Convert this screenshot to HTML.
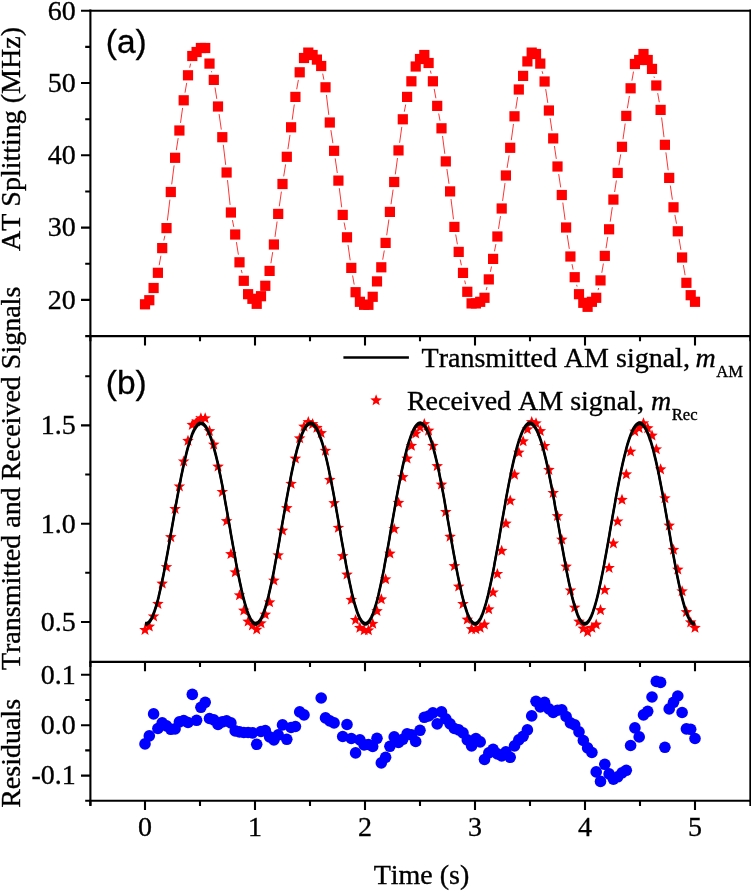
<!DOCTYPE html>
<html lang="en"><head><meta charset="utf-8"><title>AT splitting and AM signals</title>
<style>html,body{margin:0;padding:0;background:#fff}svg{display:block}</style></head>
<body>
<svg width="751" height="891" viewBox="0 0 751 891">
<rect width="751" height="891" fill="#fff"/>
<path d="M159.2 265.2L160.9 255.7M163.8 240.5L164.9 235.7M167.4 220.5L169.9 199.6M171.7 184.4L174.1 165.4M176.3 150.2L178.2 138.1M180.5 122.9L182.6 107.9M185.0 92.7L186.7 82.9M189.7 67.7L190.6 63.6M211.5 71.2L211.7 72.3M215.0 87.5L216.8 98.9M219.1 114.1L221.3 129.6M223.3 144.8L225.7 164.9M227.5 180.1L230.1 204.9M232.4 220.1L233.8 226.9M236.4 242.1L238.4 254.7M241.3 269.9L242.1 273.2M270.9 263.3L272.7 252.1M275.0 236.9L277.1 221.5M279.3 206.3L281.4 191.6M283.7 176.4L285.6 164.4M287.9 149.2L290.0 134.9M292.2 119.7L294.3 104.5M296.7 89.3L298.4 79.9M322.7 73.6L323.9 79.7M326.4 94.9L328.8 114.9M330.9 130.1L332.9 143.2M335.2 158.4L337.3 173.0M339.3 188.2L341.7 207.3M344.1 222.5L345.5 229.7M348.0 244.9L350.2 260.3M352.6 275.5L354.2 284.6M382.7 259.7L384.3 250.5M386.7 235.3L388.9 219.5M391.0 204.3L393.1 189.6M395.3 174.4L397.5 158.0M399.6 142.8L401.8 126.9M404.3 111.7L405.7 104.5M430.4 70.6L431.1 73.7M434.2 88.9L435.9 98.3M438.7 113.5L440.0 120.7M442.5 135.9L444.8 153.8M446.9 169.0L449.0 183.8M451.0 199.0L453.5 219.3M455.7 234.5L457.4 244.3M460.2 259.5L461.4 265.3M464.7 280.5L465.5 284.2M486.2 290.2L487.0 287.0M490.4 271.8L491.5 266.5M494.5 251.3L495.9 244.1M498.5 228.9L500.5 216.1M502.6 200.9L505.0 183.1M507.1 167.9L509.1 155.4M511.3 140.2L513.5 123.9M515.8 108.7L517.6 97.1M542.1 71.2L542.8 73.9M545.7 89.1L547.8 102.9M550.1 118.1L552.0 130.8M554.4 146.0L556.3 158.9M558.7 174.1L560.7 187.4M562.8 202.6L565.1 219.9M567.2 235.1L569.3 248.9M572.0 264.1L573.1 269.6M576.6 284.8L577.1 286.6M598.1 290.2L598.6 288.0M601.8 272.8L603.4 263.5M606.0 248.3L607.8 236.9M610.2 221.7L612.3 207.2M614.6 192.0L616.4 180.5M618.9 165.3L620.7 154.4M623.0 139.2L625.2 123.5M627.4 108.3L629.4 95.9M631.9 80.7L633.5 71.6M654.0 76.5L654.4 77.9M657.7 93.1L659.3 102.3M661.6 117.5L664.0 137.2M665.9 152.4L668.2 170.3M670.3 185.5L672.4 199.7M674.9 214.9L676.5 223.7M679.1 238.9L680.9 249.9M683.4 265.1L685.1 275.2" stroke="#f00" stroke-width="0.8" fill="none"/>
<g fill="#f00">
<rect x="139.9" y="299.2" width="10.2" height="10.2"/>
<rect x="144.2" y="295.1" width="10.2" height="10.2"/>
<rect x="148.5" y="282.9" width="10.2" height="10.2"/>
<rect x="152.8" y="267.7" width="10.2" height="10.2"/>
<rect x="157.1" y="243.0" width="10.2" height="10.2"/>
<rect x="161.4" y="223.0" width="10.2" height="10.2"/>
<rect x="165.7" y="186.9" width="10.2" height="10.2"/>
<rect x="170.0" y="152.7" width="10.2" height="10.2"/>
<rect x="174.3" y="125.4" width="10.2" height="10.2"/>
<rect x="178.6" y="95.2" width="10.2" height="10.2"/>
<rect x="182.9" y="70.2" width="10.2" height="10.2"/>
<rect x="187.2" y="50.9" width="10.2" height="10.2"/>
<rect x="191.5" y="46.9" width="10.2" height="10.2"/>
<rect x="195.8" y="42.9" width="10.2" height="10.2"/>
<rect x="200.1" y="42.9" width="10.2" height="10.2"/>
<rect x="204.4" y="58.5" width="10.2" height="10.2"/>
<rect x="208.7" y="74.8" width="10.2" height="10.2"/>
<rect x="212.9" y="101.4" width="10.2" height="10.2"/>
<rect x="217.2" y="132.1" width="10.2" height="10.2"/>
<rect x="221.5" y="167.4" width="10.2" height="10.2"/>
<rect x="225.8" y="207.4" width="10.2" height="10.2"/>
<rect x="230.1" y="229.4" width="10.2" height="10.2"/>
<rect x="234.4" y="257.2" width="10.2" height="10.2"/>
<rect x="238.7" y="275.7" width="10.2" height="10.2"/>
<rect x="243.0" y="289.1" width="10.2" height="10.2"/>
<rect x="247.3" y="293.7" width="10.2" height="10.2"/>
<rect x="251.6" y="298.7" width="10.2" height="10.2"/>
<rect x="255.9" y="291.1" width="10.2" height="10.2"/>
<rect x="260.2" y="280.7" width="10.2" height="10.2"/>
<rect x="264.5" y="265.8" width="10.2" height="10.2"/>
<rect x="268.8" y="239.4" width="10.2" height="10.2"/>
<rect x="273.1" y="208.8" width="10.2" height="10.2"/>
<rect x="277.4" y="178.9" width="10.2" height="10.2"/>
<rect x="281.7" y="151.7" width="10.2" height="10.2"/>
<rect x="286.0" y="122.2" width="10.2" height="10.2"/>
<rect x="290.3" y="91.8" width="10.2" height="10.2"/>
<rect x="294.6" y="67.2" width="10.2" height="10.2"/>
<rect x="298.9" y="52.9" width="10.2" height="10.2"/>
<rect x="303.2" y="47.5" width="10.2" height="10.2"/>
<rect x="307.5" y="49.9" width="10.2" height="10.2"/>
<rect x="311.8" y="54.5" width="10.2" height="10.2"/>
<rect x="316.1" y="60.9" width="10.2" height="10.2"/>
<rect x="320.4" y="82.2" width="10.2" height="10.2"/>
<rect x="324.7" y="117.4" width="10.2" height="10.2"/>
<rect x="329.0" y="145.7" width="10.2" height="10.2"/>
<rect x="333.3" y="175.5" width="10.2" height="10.2"/>
<rect x="337.6" y="209.8" width="10.2" height="10.2"/>
<rect x="341.9" y="232.2" width="10.2" height="10.2"/>
<rect x="346.2" y="262.8" width="10.2" height="10.2"/>
<rect x="350.5" y="287.1" width="10.2" height="10.2"/>
<rect x="354.8" y="296.7" width="10.2" height="10.2"/>
<rect x="359.0" y="299.7" width="10.2" height="10.2"/>
<rect x="363.3" y="299.7" width="10.2" height="10.2"/>
<rect x="367.6" y="291.7" width="10.2" height="10.2"/>
<rect x="371.9" y="276.3" width="10.2" height="10.2"/>
<rect x="376.2" y="262.2" width="10.2" height="10.2"/>
<rect x="380.5" y="237.8" width="10.2" height="10.2"/>
<rect x="384.8" y="206.8" width="10.2" height="10.2"/>
<rect x="389.1" y="176.9" width="10.2" height="10.2"/>
<rect x="393.4" y="145.3" width="10.2" height="10.2"/>
<rect x="397.7" y="114.2" width="10.2" height="10.2"/>
<rect x="402.0" y="91.8" width="10.2" height="10.2"/>
<rect x="406.3" y="76.2" width="10.2" height="10.2"/>
<rect x="410.6" y="61.4" width="10.2" height="10.2"/>
<rect x="414.9" y="53.9" width="10.2" height="10.2"/>
<rect x="419.2" y="49.9" width="10.2" height="10.2"/>
<rect x="423.5" y="57.9" width="10.2" height="10.2"/>
<rect x="427.8" y="76.2" width="10.2" height="10.2"/>
<rect x="432.1" y="100.8" width="10.2" height="10.2"/>
<rect x="436.4" y="123.2" width="10.2" height="10.2"/>
<rect x="440.7" y="156.3" width="10.2" height="10.2"/>
<rect x="445.0" y="186.3" width="10.2" height="10.2"/>
<rect x="449.3" y="221.8" width="10.2" height="10.2"/>
<rect x="453.6" y="246.8" width="10.2" height="10.2"/>
<rect x="457.9" y="267.8" width="10.2" height="10.2"/>
<rect x="462.2" y="286.7" width="10.2" height="10.2"/>
<rect x="466.5" y="298.3" width="10.2" height="10.2"/>
<rect x="470.8" y="298.3" width="10.2" height="10.2"/>
<rect x="475.1" y="296.7" width="10.2" height="10.2"/>
<rect x="479.4" y="292.7" width="10.2" height="10.2"/>
<rect x="483.7" y="274.3" width="10.2" height="10.2"/>
<rect x="488.0" y="253.8" width="10.2" height="10.2"/>
<rect x="492.3" y="231.4" width="10.2" height="10.2"/>
<rect x="496.6" y="203.4" width="10.2" height="10.2"/>
<rect x="500.8" y="170.4" width="10.2" height="10.2"/>
<rect x="505.1" y="142.7" width="10.2" height="10.2"/>
<rect x="509.4" y="111.2" width="10.2" height="10.2"/>
<rect x="513.7" y="84.4" width="10.2" height="10.2"/>
<rect x="518.0" y="70.8" width="10.2" height="10.2"/>
<rect x="522.3" y="56.3" width="10.2" height="10.2"/>
<rect x="526.6" y="47.5" width="10.2" height="10.2"/>
<rect x="530.9" y="48.9" width="10.2" height="10.2"/>
<rect x="535.2" y="58.5" width="10.2" height="10.2"/>
<rect x="539.5" y="76.4" width="10.2" height="10.2"/>
<rect x="543.8" y="105.4" width="10.2" height="10.2"/>
<rect x="548.1" y="133.3" width="10.2" height="10.2"/>
<rect x="552.4" y="161.4" width="10.2" height="10.2"/>
<rect x="556.7" y="189.9" width="10.2" height="10.2"/>
<rect x="561.0" y="222.4" width="10.2" height="10.2"/>
<rect x="565.3" y="251.4" width="10.2" height="10.2"/>
<rect x="569.6" y="272.1" width="10.2" height="10.2"/>
<rect x="573.9" y="289.1" width="10.2" height="10.2"/>
<rect x="578.2" y="297.7" width="10.2" height="10.2"/>
<rect x="582.5" y="301.7" width="10.2" height="10.2"/>
<rect x="586.8" y="296.7" width="10.2" height="10.2"/>
<rect x="591.1" y="292.7" width="10.2" height="10.2"/>
<rect x="595.4" y="275.3" width="10.2" height="10.2"/>
<rect x="599.7" y="250.8" width="10.2" height="10.2"/>
<rect x="604.0" y="224.2" width="10.2" height="10.2"/>
<rect x="608.3" y="194.5" width="10.2" height="10.2"/>
<rect x="612.6" y="167.8" width="10.2" height="10.2"/>
<rect x="616.9" y="141.7" width="10.2" height="10.2"/>
<rect x="621.2" y="110.8" width="10.2" height="10.2"/>
<rect x="625.5" y="83.2" width="10.2" height="10.2"/>
<rect x="629.8" y="58.9" width="10.2" height="10.2"/>
<rect x="634.1" y="54.9" width="10.2" height="10.2"/>
<rect x="638.4" y="48.9" width="10.2" height="10.2"/>
<rect x="642.6" y="54.9" width="10.2" height="10.2"/>
<rect x="646.9" y="63.8" width="10.2" height="10.2"/>
<rect x="651.2" y="80.4" width="10.2" height="10.2"/>
<rect x="655.5" y="104.8" width="10.2" height="10.2"/>
<rect x="659.8" y="139.7" width="10.2" height="10.2"/>
<rect x="664.1" y="172.8" width="10.2" height="10.2"/>
<rect x="668.4" y="202.2" width="10.2" height="10.2"/>
<rect x="672.7" y="226.2" width="10.2" height="10.2"/>
<rect x="677.0" y="252.4" width="10.2" height="10.2"/>
<rect x="681.3" y="277.7" width="10.2" height="10.2"/>
<rect x="685.6" y="290.1" width="10.2" height="10.2"/>
<rect x="689.9" y="296.7" width="10.2" height="10.2"/>
</g>
<path d="M145.0,623.9L146.5,627.9L150.8,628.1L147.5,630.8L148.6,634.9L145.0,632.6L141.4,634.9L142.5,630.8L139.2,628.1L143.5,627.9ZM149.3,620.5L150.8,624.5L155.1,624.7L151.8,627.4L152.9,631.5L149.3,629.2L145.7,631.5L146.8,627.4L143.5,624.7L147.8,624.5ZM153.6,610.4L155.1,614.4L159.4,614.6L156.1,617.3L157.2,621.4L153.6,619.1L150.0,621.4L151.1,617.3L147.8,614.6L152.1,614.4ZM157.9,597.9L159.4,601.8L163.7,602.1L160.4,604.8L161.5,608.9L157.9,606.6L154.3,608.9L155.4,604.8L152.1,602.1L156.4,601.8ZM162.2,577.5L163.7,581.5L168.0,581.7L164.7,584.4L165.8,588.5L162.2,586.2L158.6,588.5L159.7,584.4L156.4,581.7L160.7,581.5ZM166.5,560.9L168.0,564.9L172.3,565.2L169.0,567.8L170.1,572.0L166.5,569.6L162.9,572.0L164.0,567.8L160.7,565.2L165.0,564.9ZM170.8,531.1L172.3,535.1L176.6,535.3L173.3,538.0L174.4,542.2L170.8,539.8L167.2,542.2L168.3,538.0L165.0,535.3L169.3,535.1ZM175.1,502.9L176.6,506.9L180.9,507.1L177.6,509.8L178.7,513.9L175.1,511.6L171.5,513.9L172.6,509.8L169.3,507.1L173.6,506.9ZM179.4,480.4L180.9,484.4L185.2,484.6L181.8,487.3L183.0,491.4L179.4,489.1L175.8,491.4L176.9,487.3L173.6,484.6L177.8,484.4ZM183.7,455.4L185.2,459.4L189.5,459.6L186.1,462.3L187.3,466.5L183.7,464.1L180.1,466.5L181.2,462.3L177.9,459.6L182.1,459.4ZM188.0,434.8L189.5,438.8L193.8,439.0L190.4,441.7L191.6,445.8L188.0,443.5L184.4,445.8L185.5,441.7L182.2,439.0L186.4,438.8ZM192.3,418.8L193.8,422.8L198.1,423.1L194.7,425.7L195.9,429.9L192.3,427.5L188.7,429.9L189.8,425.7L186.5,423.1L190.7,422.8ZM196.6,415.5L198.1,419.5L202.4,419.8L199.0,422.4L200.1,426.6L196.6,424.2L193.0,426.6L194.1,422.4L190.8,419.8L195.0,419.5ZM200.9,412.2L202.4,416.2L206.7,416.4L203.3,419.1L204.4,423.3L200.9,420.9L197.3,423.3L198.4,419.1L195.1,416.4L199.3,416.2ZM205.2,412.2L206.7,416.2L211.0,416.4L207.6,419.1L208.7,423.3L205.2,420.9L201.6,423.3L202.7,419.1L199.4,416.4L203.6,416.2ZM209.5,425.1L211.0,429.1L215.3,429.3L211.9,432.0L213.0,436.1L209.5,433.8L205.9,436.1L207.0,432.0L203.7,429.3L207.9,429.1ZM213.8,438.6L215.3,442.6L219.6,442.8L216.2,445.5L217.3,449.6L213.8,447.3L210.2,449.6L211.3,445.5L208.0,442.8L212.2,442.6ZM218.0,460.5L219.6,464.5L223.9,464.8L220.5,467.4L221.6,471.6L218.0,469.2L214.5,471.6L215.6,467.4L212.2,464.8L216.5,464.5ZM222.3,485.9L223.9,489.9L228.1,490.1L224.8,492.8L225.9,496.9L222.3,494.6L218.8,496.9L219.9,492.8L216.5,490.1L220.8,489.9ZM226.6,515.0L228.2,519.0L232.4,519.2L229.1,521.9L230.2,526.1L226.6,523.7L223.1,526.1L224.2,521.9L220.8,519.2L225.1,519.0ZM230.9,548.1L232.5,552.1L236.7,552.3L233.4,555.0L234.5,559.1L230.9,556.8L227.4,559.1L228.5,555.0L225.1,552.3L229.4,552.1ZM235.2,566.2L236.8,570.2L241.0,570.4L237.7,573.1L238.8,577.3L235.2,574.9L231.7,577.3L232.8,573.1L229.4,570.4L233.7,570.2ZM239.5,589.2L241.1,593.2L245.3,593.4L242.0,596.1L243.1,600.2L239.5,597.9L235.9,600.2L237.1,596.1L233.7,593.4L238.0,593.2ZM243.8,604.5L245.4,608.5L249.6,608.7L246.3,611.4L247.4,615.5L243.8,613.2L240.2,615.5L241.4,611.4L238.0,608.7L242.3,608.5ZM248.1,615.5L249.7,619.5L253.9,619.7L250.6,622.4L251.7,626.6L248.1,624.2L244.5,626.6L245.7,622.4L242.3,619.7L246.6,619.5ZM252.4,619.3L254.0,623.3L258.2,623.5L254.9,626.2L256.0,630.4L252.4,628.0L248.8,630.4L250.0,626.2L246.6,623.5L250.9,623.3ZM256.7,623.4L258.3,627.4L262.5,627.7L259.2,630.4L260.3,634.5L256.7,632.1L253.1,634.5L254.2,630.4L250.9,627.7L255.2,627.4ZM261.0,617.2L262.5,621.2L266.8,621.4L263.5,624.1L264.6,628.2L261.0,625.9L257.4,628.2L258.5,624.1L255.2,621.4L259.5,621.2ZM265.3,608.6L266.8,612.6L271.1,612.8L267.8,615.5L268.9,619.6L265.3,617.3L261.7,619.6L262.8,615.5L259.5,612.8L263.8,612.6ZM269.6,596.3L271.1,600.3L275.4,600.5L272.1,603.2L273.2,607.3L269.6,605.0L266.0,607.3L267.1,603.2L263.8,600.5L268.1,600.3ZM273.9,574.5L275.4,578.5L279.7,578.7L276.4,581.4L277.5,585.5L273.9,583.2L270.3,585.5L271.4,581.4L268.1,578.7L272.4,578.5ZM278.2,549.2L279.7,553.2L284.0,553.4L280.7,556.1L281.8,560.3L278.2,557.9L274.6,560.3L275.7,556.1L272.4,553.4L276.7,553.2ZM282.5,524.5L284.0,528.5L288.3,528.7L285.0,531.4L286.1,535.6L282.5,533.2L278.9,535.6L280.0,531.4L276.7,528.7L281.0,528.5ZM286.8,502.1L288.3,506.1L292.6,506.3L289.3,509.0L290.4,513.1L286.8,510.8L283.2,513.1L284.3,509.0L281.0,506.3L285.3,506.1ZM291.1,477.7L292.6,481.7L296.9,481.9L293.6,484.6L294.7,488.7L291.1,486.4L287.5,488.7L288.6,484.6L285.3,481.9L289.6,481.7ZM295.4,452.6L296.9,456.6L301.2,456.8L297.9,459.5L299.0,463.6L295.4,461.3L291.8,463.6L292.9,459.5L289.6,456.8L293.9,456.6ZM299.7,432.3L301.2,436.3L305.5,436.5L302.2,439.2L303.3,443.3L299.7,441.0L296.1,443.3L297.2,439.2L293.9,436.5L298.2,436.3ZM304.0,420.5L305.5,424.5L309.8,424.7L306.5,427.4L307.6,431.5L304.0,429.2L300.4,431.5L301.5,427.4L298.2,424.7L302.5,424.5ZM308.3,416.0L309.8,420.0L314.1,420.2L310.8,422.9L311.9,427.1L308.3,424.7L304.7,427.1L305.8,422.9L302.5,420.2L306.8,420.0ZM312.6,418.0L314.1,422.0L318.4,422.2L315.1,424.9L316.2,429.0L312.6,426.7L309.0,429.0L310.1,424.9L306.8,422.2L311.1,422.0ZM316.9,421.8L318.4,425.8L322.7,426.0L319.4,428.7L320.5,432.8L316.9,430.5L313.3,432.8L314.4,428.7L311.1,426.0L315.4,425.8ZM321.2,427.1L322.7,431.1L327.0,431.3L323.6,434.0L324.8,438.1L321.2,435.8L317.6,438.1L318.7,434.0L315.4,431.3L319.6,431.1ZM325.5,444.7L327.0,448.7L331.3,448.9L327.9,451.6L329.1,455.7L325.5,453.4L321.9,455.7L323.0,451.6L319.7,448.9L323.9,448.7ZM329.8,473.7L331.3,477.7L335.6,478.0L332.2,480.7L333.4,484.8L329.8,482.4L326.2,484.8L327.3,480.7L324.0,478.0L328.2,477.7ZM334.1,497.1L335.6,501.1L339.9,501.3L336.5,504.0L337.7,508.2L334.1,505.8L330.5,508.2L331.6,504.0L328.3,501.3L332.5,501.1ZM338.4,521.7L339.9,525.7L344.2,525.9L340.8,528.6L342.0,532.8L338.4,530.4L334.8,532.8L335.9,528.6L332.6,525.9L336.8,525.7ZM342.7,550.0L344.2,554.0L348.5,554.3L345.1,556.9L346.2,561.1L342.7,558.7L339.1,561.1L340.2,556.9L336.9,554.3L341.1,554.0ZM347.0,568.5L348.5,572.5L352.8,572.8L349.4,575.4L350.5,579.6L347.0,577.2L343.4,579.6L344.5,575.4L341.2,572.8L345.4,572.5ZM351.3,593.8L352.8,597.8L357.1,598.0L353.7,600.7L354.8,604.8L351.3,602.5L347.7,604.8L348.8,600.7L345.5,598.0L349.7,597.8ZM355.6,613.9L357.1,617.9L361.4,618.1L358.0,620.8L359.1,624.9L355.6,622.6L352.0,624.9L353.1,620.8L349.8,618.1L354.0,617.9ZM359.9,621.8L361.4,625.8L365.7,626.0L362.3,628.7L363.4,632.8L359.9,630.5L356.3,632.8L357.4,628.7L354.0,626.0L358.3,625.8ZM364.1,624.3L365.7,628.3L369.9,628.5L366.6,631.2L367.7,635.3L364.1,633.0L360.6,635.3L361.7,631.2L358.3,628.5L362.6,628.3ZM368.4,624.3L370.0,628.3L374.2,628.5L370.9,631.2L372.0,635.3L368.4,633.0L364.9,635.3L366.0,631.2L362.6,628.5L366.9,628.3ZM372.7,617.7L374.3,621.7L378.5,621.9L375.2,624.6L376.3,628.7L372.7,626.4L369.2,628.7L370.3,624.6L366.9,621.9L371.2,621.7ZM377.0,605.0L378.6,608.9L382.8,609.2L379.5,611.9L380.6,616.0L377.0,613.7L373.5,616.0L374.6,611.9L371.2,609.2L375.5,608.9ZM381.3,593.3L382.9,597.3L387.1,597.5L383.8,600.2L384.9,604.3L381.3,602.0L377.7,604.3L378.9,600.2L375.5,597.5L379.8,597.3ZM385.6,573.2L387.2,577.2L391.4,577.4L388.1,580.1L389.2,584.2L385.6,581.9L382.0,584.2L383.2,580.1L379.8,577.4L384.1,577.2ZM389.9,547.6L391.5,551.6L395.7,551.8L392.4,554.5L393.5,558.6L389.9,556.3L386.3,558.6L387.5,554.5L384.1,551.8L388.4,551.6ZM394.2,522.9L395.8,526.9L400.0,527.1L396.7,529.8L397.8,533.9L394.2,531.6L390.6,533.9L391.8,529.8L388.4,527.1L392.7,526.9ZM398.5,496.8L400.1,500.8L404.3,501.0L401.0,503.7L402.1,507.8L398.5,505.5L394.9,507.8L396.1,503.7L392.7,501.0L397.0,500.8ZM402.8,471.1L404.3,475.1L408.6,475.3L405.3,478.0L406.4,482.1L402.8,479.8L399.2,482.1L400.3,478.0L397.0,475.3L401.3,475.1ZM407.1,452.6L408.6,456.6L412.9,456.8L409.6,459.5L410.7,463.6L407.1,461.3L403.5,463.6L404.6,459.5L401.3,456.8L405.6,456.6ZM411.4,439.7L412.9,443.7L417.2,443.9L413.9,446.6L415.0,450.8L411.4,448.4L407.8,450.8L408.9,446.6L405.6,443.9L409.9,443.7ZM415.7,427.5L417.2,431.5L421.5,431.7L418.2,434.4L419.3,438.5L415.7,436.2L412.1,438.5L413.2,434.4L409.9,431.7L414.2,431.5ZM420.0,421.3L421.5,425.3L425.8,425.5L422.5,428.2L423.6,432.4L420.0,430.0L416.4,432.4L417.5,428.2L414.2,425.5L418.5,425.3ZM424.3,418.0L425.8,422.0L430.1,422.2L426.8,424.9L427.9,429.0L424.3,426.7L420.7,429.0L421.8,424.9L418.5,422.2L422.8,422.0ZM428.6,424.6L430.1,428.6L434.4,428.8L431.1,431.5L432.2,435.7L428.6,433.3L425.0,435.7L426.1,431.5L422.8,428.8L427.1,428.6ZM432.9,439.7L434.4,443.7L438.7,443.9L435.4,446.6L436.5,450.8L432.9,448.4L429.3,450.8L430.4,446.6L427.1,443.9L431.4,443.7ZM437.2,460.0L438.7,464.0L443.0,464.3L439.7,466.9L440.8,471.1L437.2,468.7L433.6,471.1L434.7,466.9L431.4,464.3L435.7,464.0ZM441.5,478.5L443.0,482.5L447.3,482.8L444.0,485.4L445.1,489.6L441.5,487.2L437.9,489.6L439.0,485.4L435.7,482.8L440.0,482.5ZM445.8,505.9L447.3,509.9L451.6,510.1L448.3,512.8L449.4,516.9L445.8,514.6L442.2,516.9L443.3,512.8L440.0,510.1L444.3,509.9ZM450.1,530.6L451.6,534.6L455.9,534.9L452.6,537.5L453.7,541.7L450.1,539.3L446.5,541.7L447.6,537.5L444.3,534.9L448.6,534.6ZM454.4,560.0L455.9,563.9L460.2,564.2L456.9,566.9L458.0,571.0L454.4,568.7L450.8,571.0L451.9,566.9L448.6,564.2L452.9,563.9ZM458.7,580.6L460.2,584.6L464.5,584.8L461.2,587.5L462.3,591.6L458.7,589.3L455.1,591.6L456.2,587.5L452.9,584.8L457.2,584.6ZM463.0,597.9L464.5,601.9L468.8,602.1L465.5,604.8L466.6,609.0L463.0,606.6L459.4,609.0L460.5,604.8L457.2,602.1L461.4,601.9ZM467.3,613.5L468.8,617.5L473.1,617.8L469.7,620.4L470.9,624.6L467.3,622.2L463.7,624.6L464.8,620.4L461.5,617.8L465.7,617.5ZM471.6,623.1L473.1,627.1L477.4,627.3L474.0,630.0L475.2,634.2L471.6,631.8L468.0,634.2L469.1,630.0L465.8,627.3L470.0,627.1ZM475.9,623.1L477.4,627.1L481.7,627.3L478.3,630.0L479.5,634.2L475.9,631.8L472.3,634.2L473.4,630.0L470.1,627.3L474.3,627.1ZM480.2,621.8L481.7,625.8L486.0,626.0L482.6,628.7L483.8,632.8L480.2,630.5L476.6,632.8L477.7,628.7L474.4,626.0L478.6,625.8ZM484.5,618.5L486.0,622.5L490.3,622.7L486.9,625.4L488.0,629.5L484.5,627.2L480.9,629.5L482.0,625.4L478.7,622.7L482.9,622.5ZM488.8,603.3L490.3,607.3L494.6,607.5L491.2,610.2L492.3,614.3L488.8,612.0L485.2,614.3L486.3,610.2L483.0,607.5L487.2,607.3ZM493.1,586.4L494.6,590.4L498.9,590.6L495.5,593.3L496.6,597.4L493.1,595.1L489.5,597.4L490.6,593.3L487.3,590.6L491.5,590.4ZM497.4,567.9L498.9,571.9L503.2,572.1L499.8,574.8L500.9,578.9L497.4,576.6L493.8,578.9L494.9,574.8L491.6,572.1L495.8,571.9ZM501.7,544.8L503.2,548.8L507.5,549.0L504.1,551.7L505.2,555.8L501.7,553.5L498.1,555.8L499.2,551.7L495.8,549.0L500.1,548.8ZM505.9,517.5L507.5,521.5L511.7,521.7L508.4,524.4L509.5,528.5L505.9,526.2L502.4,528.5L503.5,524.4L500.1,521.7L504.4,521.5ZM510.2,494.6L511.8,498.6L516.0,498.9L512.7,501.5L513.8,505.7L510.2,503.3L506.7,505.7L507.8,501.5L504.4,498.9L508.7,498.6ZM514.5,468.6L516.1,472.6L520.3,472.8L517.0,475.5L518.1,479.7L514.5,477.3L511.0,479.7L512.1,475.5L508.7,472.8L513.0,472.6ZM518.8,446.5L520.4,450.5L524.6,450.7L521.3,453.4L522.4,457.5L518.8,455.2L515.3,457.5L516.4,453.4L513.0,450.7L517.3,450.5ZM523.1,435.3L524.7,439.3L528.9,439.5L525.6,442.2L526.7,446.3L523.1,444.0L519.6,446.3L520.7,442.2L517.3,439.5L521.6,439.3ZM527.4,423.3L529.0,427.3L533.2,427.5L529.9,430.2L531.0,434.3L527.4,432.0L523.8,434.3L525.0,430.2L521.6,427.5L525.9,427.3ZM531.7,416.0L533.3,420.0L537.5,420.2L534.2,422.9L535.3,427.1L531.7,424.7L528.1,427.1L529.3,422.9L525.9,420.2L530.2,420.0ZM536.0,417.2L537.6,421.2L541.8,421.4L538.5,424.1L539.6,428.2L536.0,425.9L532.4,428.2L533.6,424.1L530.2,421.4L534.5,421.2ZM540.3,425.1L541.9,429.1L546.1,429.3L542.8,432.0L543.9,436.1L540.3,433.8L536.7,436.1L537.9,432.0L534.5,429.3L538.8,429.1ZM544.6,439.9L546.1,443.9L550.4,444.1L547.1,446.8L548.2,450.9L544.6,448.6L541.0,450.9L542.1,446.8L538.8,444.1L543.1,443.9ZM548.9,463.8L550.4,467.8L554.7,468.1L551.4,470.7L552.5,474.9L548.9,472.5L545.3,474.9L546.4,470.7L543.1,468.1L547.4,467.8ZM553.2,486.9L554.7,490.9L559.0,491.1L555.7,493.8L556.8,497.9L553.2,495.6L549.6,497.9L550.7,493.8L547.4,491.1L551.7,490.9ZM557.5,510.1L559.0,514.1L563.3,514.3L560.0,517.0L561.1,521.1L557.5,518.8L553.9,521.1L555.0,517.0L551.7,514.3L556.0,514.1ZM561.8,533.6L563.3,537.6L567.6,537.8L564.3,540.5L565.4,544.6L561.8,542.3L558.2,544.6L559.3,540.5L556.0,537.8L560.3,537.6ZM566.1,560.4L567.6,564.4L571.9,564.7L568.6,567.4L569.7,571.5L566.1,569.1L562.5,571.5L563.6,567.4L560.3,564.7L564.6,564.4ZM570.4,584.4L571.9,588.4L576.2,588.6L572.9,591.3L574.0,595.4L570.4,593.1L566.8,595.4L567.9,591.3L564.6,588.6L568.9,588.4ZM574.7,601.5L576.2,605.5L580.5,605.7L577.2,608.4L578.3,612.5L574.7,610.2L571.1,612.5L572.2,608.4L568.9,605.7L573.2,605.5ZM579.0,615.5L580.5,619.5L584.8,619.7L581.5,622.4L582.6,626.6L579.0,624.2L575.4,626.6L576.5,622.4L573.2,619.7L577.5,619.5ZM583.3,622.6L584.8,626.6L589.1,626.8L585.8,629.5L586.9,633.7L583.3,631.3L579.7,633.7L580.8,629.5L577.5,626.8L581.8,626.6ZM587.6,625.9L589.1,629.9L593.4,630.1L590.1,632.8L591.2,637.0L587.6,634.6L584.0,637.0L585.1,632.8L581.8,630.1L586.1,629.9ZM591.9,621.8L593.4,625.8L597.7,626.0L594.4,628.7L595.5,632.8L591.9,630.5L588.3,632.8L589.4,628.7L586.1,626.0L590.4,625.8ZM596.2,618.5L597.7,622.5L602.0,622.7L598.7,625.4L599.8,629.5L596.2,627.2L592.6,629.5L593.7,625.4L590.4,622.7L594.7,622.5ZM600.5,604.1L602.0,608.1L606.3,608.3L603.0,611.0L604.1,615.2L600.5,612.8L596.9,615.2L598.0,611.0L594.7,608.3L599.0,608.1ZM604.8,583.9L606.3,587.9L610.6,588.1L607.3,590.8L608.4,594.9L604.8,592.6L601.2,594.9L602.3,590.8L599.0,588.1L603.3,587.9ZM609.1,561.9L610.6,565.9L614.9,566.1L611.5,568.8L612.7,573.0L609.1,570.6L605.5,573.0L606.6,568.8L603.3,566.1L607.5,565.9ZM613.4,537.4L614.9,541.4L619.2,541.6L615.8,544.3L617.0,548.4L613.4,546.1L609.8,548.4L610.9,544.3L607.6,541.6L611.8,541.4ZM617.7,515.4L619.2,519.4L623.5,519.6L620.1,522.3L621.3,526.4L617.7,524.1L614.1,526.4L615.2,522.3L611.9,519.6L616.1,519.4ZM622.0,493.8L623.5,497.8L627.8,498.0L624.4,500.7L625.6,504.8L622.0,502.5L618.4,504.8L619.5,500.7L616.2,498.0L620.4,497.8ZM626.3,468.3L627.8,472.3L632.1,472.5L628.7,475.2L629.8,479.3L626.3,477.0L622.7,479.3L623.8,475.2L620.5,472.5L624.7,472.3ZM630.6,445.5L632.1,449.5L636.4,449.7L633.0,452.4L634.1,456.5L630.6,454.2L627.0,456.5L628.1,452.4L624.8,449.7L629.0,449.5ZM634.9,425.4L636.4,429.4L640.7,429.7L637.3,432.3L638.4,436.5L634.9,434.1L631.3,436.5L632.4,432.3L629.1,429.7L633.3,429.4ZM639.2,422.1L640.7,426.1L645.0,426.4L641.6,429.0L642.7,433.2L639.2,430.8L635.6,433.2L636.7,429.0L633.4,426.4L637.6,426.1ZM643.5,417.2L645.0,421.2L649.3,421.4L645.9,424.1L647.0,428.2L643.5,425.9L639.9,428.2L641.0,424.1L637.7,421.4L641.9,421.2ZM647.7,422.1L649.3,426.1L653.6,426.4L650.2,429.0L651.3,433.2L647.7,430.8L644.2,433.2L645.3,429.0L641.9,426.4L646.2,426.1ZM652.0,429.5L653.6,433.5L657.8,433.7L654.5,436.4L655.6,440.5L652.0,438.2L648.5,440.5L649.6,436.4L646.2,433.7L650.5,433.5ZM656.3,443.2L657.9,447.2L662.1,447.4L658.8,450.1L659.9,454.2L656.3,451.9L652.8,454.2L653.9,450.1L650.5,447.4L654.8,447.2ZM660.6,463.3L662.2,467.3L666.4,467.6L663.1,470.2L664.2,474.4L660.6,472.0L657.1,474.4L658.2,470.2L654.8,467.6L659.1,467.3ZM664.9,492.2L666.5,496.2L670.7,496.4L667.4,499.1L668.5,503.2L664.9,500.9L661.4,503.2L662.5,499.1L659.1,496.4L663.4,496.2ZM669.2,519.5L670.8,523.5L675.0,523.7L671.7,526.4L672.8,530.5L669.2,528.2L665.6,530.5L666.8,526.4L663.4,523.7L667.7,523.5ZM673.5,543.8L675.1,547.8L679.3,548.0L676.0,550.7L677.1,554.8L673.5,552.5L669.9,554.8L671.1,550.7L667.7,548.0L672.0,547.8ZM677.8,563.6L679.4,567.6L683.6,567.8L680.3,570.5L681.4,574.6L677.8,572.3L674.2,574.6L675.4,570.5L672.0,567.8L676.3,567.6ZM682.1,585.2L683.7,589.2L687.9,589.4L684.6,592.1L685.7,596.3L682.1,593.9L678.5,596.3L679.7,592.1L676.3,589.4L680.6,589.2ZM686.4,606.1L688.0,610.1L692.2,610.3L688.9,613.0L690.0,617.1L686.4,614.8L682.8,617.1L683.9,613.0L680.6,610.3L684.9,610.1ZM690.7,616.3L692.2,620.3L696.5,620.6L693.2,623.3L694.3,627.4L690.7,625.0L687.1,627.4L688.2,623.3L684.9,620.6L689.2,620.3ZM695.0,621.8L696.5,625.8L700.8,626.0L697.5,628.7L698.6,632.8L695.0,630.5L691.4,632.8L692.5,628.7L689.2,626.0L693.5,625.8Z" fill="#f00"/>
<g stroke="#000" stroke-width="2.3" fill="none" stroke-linejoin="round"><path d="M145.0 623.6L145.8 623.8L146.6 623.7L147.4 623.5L148.1 623.0L148.9 622.3L149.7 621.4L150.5 620.3L151.3 618.9L152.1 617.4L152.9 615.6L153.6 613.6L154.4 611.5L155.2 609.1L156.0 606.6L156.8 603.9L157.6 601.0L158.4 597.9L159.1 594.7L159.9 591.3L160.7 587.8L161.5 584.2L162.3 580.4L163.1 576.6L163.9 572.6L164.6 568.5L165.4 564.3L166.2 560.1L167.0 555.8L167.8 551.4L168.6 547.0L169.4 542.5L170.1 538.0L170.9 533.5L171.7 528.9L172.5 524.4L173.3 519.9L174.1 515.4L174.9 510.9L175.6 506.5L176.4 502.1L177.2 497.7L178.0 493.4L178.8 489.2L179.6 485.1L180.4 481.0L181.1 477.0L181.9 473.2L182.7 469.4L183.5 465.7L184.3 462.2L185.1 458.8L185.9 455.5L186.6 452.4L187.4 449.4L188.2 446.5L189.0 443.8L189.8 441.3L190.6 438.9L191.4 436.6L192.1 434.5L192.9 432.6L193.7 430.9L194.5 429.3L195.3 428.0L196.1 426.8L196.9 425.7L197.6 424.9L198.4 424.2L199.2 423.7L200.0 423.4L200.8 423.3L201.6 423.4L202.4 423.6L203.1 424.1L203.9 424.7L204.7 425.5L205.5 426.5L206.3 427.6L207.1 429.0L207.9 430.5L208.6 432.2L209.4 434.0L210.2 436.1L211.0 438.3L211.8 440.6L212.6 443.1L213.4 445.8L214.1 448.6L214.9 451.6L215.7 454.7L216.5 457.9L217.3 461.3L218.1 464.8L218.9 468.4L219.6 472.2L220.4 476.0L221.2 480.0L222.0 484.0L222.8 488.1L223.6 492.3L224.4 496.6L225.1 500.9L225.9 505.3L226.7 509.7L227.5 514.2L228.3 518.7L229.1 523.2L229.9 527.8L230.6 532.3L231.4 536.8L232.2 541.3L233.0 545.8L233.8 550.2L234.6 554.6L235.4 559.0L236.1 563.2L236.9 567.4L237.7 571.5L238.5 575.5L239.3 579.4L240.1 583.2L240.9 586.9L241.6 590.4L242.4 593.8L243.2 597.1L244.0 600.2L244.8 603.1L245.6 605.9L246.4 608.5L247.1 610.9L247.9 613.1L248.7 615.1L249.5 616.9L250.3 618.5L251.1 619.9L251.9 621.1L252.6 622.1L253.4 622.9L254.2 623.4L255.0 623.7L255.8 623.8L256.6 623.7L257.4 623.3L258.1 622.7L258.9 622.0L259.7 620.9L260.5 619.7L261.3 618.3L262.1 616.6L262.9 614.8L263.6 612.8L264.4 610.5L265.2 608.1L266.0 605.5L266.8 602.7L267.6 599.7L268.4 596.6L269.1 593.3L269.9 589.9L270.7 586.4L271.5 582.7L272.3 578.9L273.1 574.9L273.9 570.9L274.6 566.8L275.4 562.6L276.2 558.3L277.0 554.0L277.8 549.6L278.6 545.1L279.4 540.6L280.1 536.1L280.9 531.6L281.7 527.1L282.5 522.5L283.3 518.0L284.1 513.5L284.9 509.1L285.6 504.6L286.4 500.3L287.2 495.9L288.0 491.7L288.8 487.5L289.6 483.4L290.4 479.3L291.1 475.4L291.9 471.6L292.7 467.9L293.5 464.3L294.3 460.8L295.1 457.4L295.9 454.2L296.6 451.1L297.4 448.2L298.2 445.4L299.0 442.7L299.8 440.2L300.6 437.9L301.4 435.7L302.1 433.7L302.9 431.9L303.7 430.2L304.5 428.8L305.3 427.4L306.1 426.3L306.9 425.4L307.6 424.6L308.4 424.0L309.2 423.6L310.0 423.4L310.8 423.3L311.6 423.5L312.4 423.8L313.1 424.3L313.9 425.0L314.7 425.9L315.5 426.9L316.3 428.2L317.1 429.6L317.9 431.2L318.6 432.9L319.4 434.9L320.2 437.0L321.0 439.2L321.8 441.6L322.6 444.2L323.4 446.9L324.1 449.8L324.9 452.9L325.7 456.0L326.5 459.3L327.3 462.8L328.1 466.3L328.9 470.0L329.6 473.8L330.4 477.6L331.2 481.6L332.0 485.7L332.8 489.8L333.6 494.1L334.4 498.4L335.1 502.7L335.9 507.1L336.7 511.6L337.5 516.1L338.3 520.6L339.1 525.1L339.9 529.6L340.6 534.2L341.4 538.7L342.2 543.2L343.0 547.6L343.8 552.1L344.6 556.4L345.4 560.7L346.1 565.0L346.9 569.1L347.7 573.2L348.5 577.2L349.3 581.0L350.1 584.8L350.9 588.4L351.6 591.9L352.4 595.2L353.2 598.4L354.0 601.4L354.8 604.3L355.6 607.0L356.4 609.5L357.1 611.8L357.9 613.9L358.7 615.9L359.5 617.6L360.3 619.1L361.1 620.4L361.9 621.5L362.6 622.4L363.4 623.1L364.2 623.5L365.0 623.8L365.8 623.8L366.6 623.6L367.4 623.1L368.1 622.4L368.9 621.6L369.7 620.5L370.5 619.2L371.3 617.6L372.1 615.9L372.9 614.0L373.6 611.9L374.4 609.5L375.2 607.0L376.0 604.3L376.8 601.5L377.6 598.5L378.4 595.3L379.1 591.9L379.9 588.5L380.7 584.8L381.5 581.1L382.3 577.2L383.1 573.3L383.9 569.2L384.6 565.1L385.4 560.8L386.2 556.5L387.0 552.1L387.8 547.7L388.6 543.3L389.4 538.8L390.1 534.3L390.9 529.7L391.7 525.2L392.5 520.7L393.3 516.2L394.1 511.7L394.9 507.2L395.6 502.8L396.4 498.5L397.2 494.2L398.0 489.9L398.8 485.8L399.6 481.7L400.4 477.7L401.1 473.8L401.9 470.0L402.7 466.4L403.5 462.8L404.3 459.4L405.1 456.1L405.9 452.9L406.6 449.9L407.4 447.0L408.2 444.3L409.0 441.7L409.8 439.3L410.6 437.0L411.4 434.9L412.1 433.0L412.9 431.2L413.7 429.6L414.5 428.2L415.3 427.0L416.1 425.9L416.9 425.0L417.6 424.3L418.4 423.8L419.2 423.5L420.0 423.3L420.8 423.4L421.6 423.6L422.4 424.0L423.1 424.6L423.9 425.3L424.7 426.3L425.5 427.4L426.3 428.7L427.1 430.2L427.9 431.9L428.6 433.7L429.4 435.7L430.2 437.9L431.0 440.2L431.8 442.7L432.6 445.3L433.4 448.1L434.1 451.1L434.9 454.1L435.7 457.4L436.5 460.7L437.3 464.2L438.1 467.8L438.9 471.5L439.6 475.3L440.4 479.3L441.2 483.3L442.0 487.4L442.8 491.6L443.6 495.8L444.4 500.2L445.1 504.6L445.9 509.0L446.7 513.4L447.5 517.9L448.3 522.5L449.1 527.0L449.9 531.5L450.6 536.0L451.4 540.6L452.2 545.0L453.0 549.5L453.8 553.9L454.6 558.2L455.4 562.5L456.1 566.7L456.9 570.8L457.7 574.9L458.5 578.8L459.3 582.6L460.1 586.3L460.9 589.8L461.6 593.3L462.4 596.5L463.2 599.7L464.0 602.6L464.8 605.4L465.6 608.0L466.4 610.5L467.1 612.7L467.9 614.8L468.7 616.6L469.5 618.3L470.3 619.7L471.1 620.9L471.9 621.9L472.6 622.7L473.4 623.3L474.2 623.7L475.0 623.8L475.8 623.7L476.6 623.4L477.4 622.9L478.1 622.1L478.9 621.1L479.7 620.0L480.5 618.6L481.3 616.9L482.1 615.1L482.9 613.1L483.6 610.9L484.4 608.5L485.2 605.9L486.0 603.2L486.8 600.2L487.6 597.2L488.4 593.9L489.1 590.5L489.9 587.0L490.7 583.3L491.5 579.5L492.3 575.6L493.1 571.6L493.9 567.5L494.6 563.3L495.4 559.0L496.2 554.7L497.0 550.3L497.8 545.9L498.6 541.4L499.4 536.9L500.1 532.4L500.9 527.9L501.7 523.3L502.5 518.8L503.3 514.3L504.1 509.8L504.9 505.4L505.6 501.0L506.4 496.7L507.2 492.4L508.0 488.2L508.8 484.1L509.6 480.0L510.4 476.1L511.1 472.2L511.9 468.5L512.7 464.9L513.5 461.4L514.3 458.0L515.1 454.8L515.9 451.6L516.6 448.7L517.4 445.9L518.2 443.2L519.0 440.7L519.8 438.3L520.6 436.1L521.4 434.1L522.1 432.2L522.9 430.5L523.7 429.0L524.5 427.7L525.3 426.5L526.1 425.5L526.9 424.7L527.6 424.1L528.4 423.6L529.2 423.4L530.0 423.3L530.8 423.4L531.6 423.7L532.4 424.2L533.1 424.9L533.9 425.7L534.7 426.7L535.5 427.9L536.3 429.3L537.1 430.9L537.9 432.6L538.6 434.5L539.4 436.6L540.2 438.8L541.0 441.2L541.8 443.8L542.6 446.5L543.4 449.3L544.1 452.3L544.9 455.5L545.7 458.7L546.5 462.1L547.3 465.7L548.1 469.3L548.9 473.1L549.6 477.0L550.4 480.9L551.2 485.0L552.0 489.1L552.8 493.3L553.6 497.6L554.4 502.0L555.1 506.4L555.9 510.8L556.7 515.3L557.5 519.8L558.3 524.3L559.1 528.9L559.9 533.4L560.6 537.9L561.4 542.4L562.2 546.9L563.0 551.3L563.8 555.7L564.6 560.0L565.4 564.3L566.1 568.4L566.9 572.5L567.7 576.5L568.5 580.4L569.3 584.1L570.1 587.8L570.9 591.3L571.6 594.6L572.4 597.9L573.2 600.9L574.0 603.8L574.8 606.5L575.6 609.1L576.4 611.4L577.1 613.6L577.9 615.6L578.7 617.3L579.5 618.9L580.3 620.2L581.1 621.4L581.9 622.3L582.6 623.0L583.4 623.5L584.2 623.7L585.0 623.8L585.8 623.6L586.6 623.2L587.4 622.6L588.1 621.7L588.9 620.7L589.7 619.4L590.5 617.9L591.3 616.2L592.1 614.3L592.9 612.2L593.6 609.9L594.4 607.5L595.2 604.8L596.0 602.0L596.8 599.0L597.6 595.8L598.4 592.5L599.1 589.1L599.9 585.5L600.7 581.8L601.5 577.9L602.3 574.0L603.1 569.9L603.9 565.8L604.6 561.6L605.4 557.3L606.2 552.9L607.0 548.5L607.8 544.0L608.6 539.5L609.4 535.0L610.1 530.5L610.9 526.0L611.7 521.5L612.5 516.9L613.3 512.4L614.1 508.0L614.9 503.6L615.6 499.2L616.4 494.9L617.2 490.7L618.0 486.5L618.8 482.4L619.6 478.4L620.4 474.5L621.1 470.7L621.9 467.0L622.7 463.4L623.5 460.0L624.3 456.6L625.1 453.5L625.9 450.4L626.6 447.5L627.4 444.7L628.2 442.1L629.0 439.7L629.8 437.4L630.6 435.2L631.4 433.3L632.1 431.5L632.9 429.9L633.7 428.4L634.5 427.2L635.3 426.1L636.1 425.2L636.9 424.4L637.6 423.9L638.4 423.5L639.2 423.3L640.0 423.3L640.8 423.5L641.6 423.9L642.4 424.5L643.1 425.2L643.9 426.1L644.7 427.2L645.5 428.5L646.3 429.9L647.1 431.6L647.9 433.4L648.6 435.3L649.4 437.5L650.2 439.8L651.0 442.2L651.8 444.9L652.6 447.6L653.4 450.5L654.1 453.6L654.9 456.8L655.7 460.1L656.5 463.6L657.3 467.2L658.1 470.9L658.9 474.7L659.6 478.6L660.4 482.6L661.2 486.7L662.0 490.9L662.8 495.1L663.6 499.4L664.4 503.8L665.1 508.2L665.9 512.7L666.7 517.2L667.5 521.7L668.3 526.2L669.1 530.7L669.9 535.3L670.6 539.8L671.4 544.3L672.2 548.7L673.0 553.1L673.8 557.5L674.6 561.8L675.4 566.0L676.1 570.1L676.9 574.2L677.7 578.1L678.5 581.9L679.3 585.7L680.1 589.2L680.9 592.7L681.6 596.0L682.4 599.1L683.2 602.1L684.0 605.0L684.8 607.6L685.6 610.1L686.4 612.3L687.1 614.4L687.9 616.3L688.7 618.0L689.5 619.5L690.3 620.7L691.1 621.8L691.9 622.6L692.6 623.2L693.4 623.6L694.2 623.8L695.0 623.7" transform="translate(0 -0.8)"/><path d="M145.0 623.6L145.8 623.8L146.6 623.7L147.4 623.5L148.1 623.0L148.9 622.3L149.7 621.4L150.5 620.3L151.3 618.9L152.1 617.4L152.9 615.6L153.6 613.6L154.4 611.5L155.2 609.1L156.0 606.6L156.8 603.9L157.6 601.0L158.4 597.9L159.1 594.7L159.9 591.3L160.7 587.8L161.5 584.2L162.3 580.4L163.1 576.6L163.9 572.6L164.6 568.5L165.4 564.3L166.2 560.1L167.0 555.8L167.8 551.4L168.6 547.0L169.4 542.5L170.1 538.0L170.9 533.5L171.7 528.9L172.5 524.4L173.3 519.9L174.1 515.4L174.9 510.9L175.6 506.5L176.4 502.1L177.2 497.7L178.0 493.4L178.8 489.2L179.6 485.1L180.4 481.0L181.1 477.0L181.9 473.2L182.7 469.4L183.5 465.7L184.3 462.2L185.1 458.8L185.9 455.5L186.6 452.4L187.4 449.4L188.2 446.5L189.0 443.8L189.8 441.3L190.6 438.9L191.4 436.6L192.1 434.5L192.9 432.6L193.7 430.9L194.5 429.3L195.3 428.0L196.1 426.8L196.9 425.7L197.6 424.9L198.4 424.2L199.2 423.7L200.0 423.4L200.8 423.3L201.6 423.4L202.4 423.6L203.1 424.1L203.9 424.7L204.7 425.5L205.5 426.5L206.3 427.6L207.1 429.0L207.9 430.5L208.6 432.2L209.4 434.0L210.2 436.1L211.0 438.3L211.8 440.6L212.6 443.1L213.4 445.8L214.1 448.6L214.9 451.6L215.7 454.7L216.5 457.9L217.3 461.3L218.1 464.8L218.9 468.4L219.6 472.2L220.4 476.0L221.2 480.0L222.0 484.0L222.8 488.1L223.6 492.3L224.4 496.6L225.1 500.9L225.9 505.3L226.7 509.7L227.5 514.2L228.3 518.7L229.1 523.2L229.9 527.8L230.6 532.3L231.4 536.8L232.2 541.3L233.0 545.8L233.8 550.2L234.6 554.6L235.4 559.0L236.1 563.2L236.9 567.4L237.7 571.5L238.5 575.5L239.3 579.4L240.1 583.2L240.9 586.9L241.6 590.4L242.4 593.8L243.2 597.1L244.0 600.2L244.8 603.1L245.6 605.9L246.4 608.5L247.1 610.9L247.9 613.1L248.7 615.1L249.5 616.9L250.3 618.5L251.1 619.9L251.9 621.1L252.6 622.1L253.4 622.9L254.2 623.4L255.0 623.7L255.8 623.8L256.6 623.7L257.4 623.3L258.1 622.7L258.9 622.0L259.7 620.9L260.5 619.7L261.3 618.3L262.1 616.6L262.9 614.8L263.6 612.8L264.4 610.5L265.2 608.1L266.0 605.5L266.8 602.7L267.6 599.7L268.4 596.6L269.1 593.3L269.9 589.9L270.7 586.4L271.5 582.7L272.3 578.9L273.1 574.9L273.9 570.9L274.6 566.8L275.4 562.6L276.2 558.3L277.0 554.0L277.8 549.6L278.6 545.1L279.4 540.6L280.1 536.1L280.9 531.6L281.7 527.1L282.5 522.5L283.3 518.0L284.1 513.5L284.9 509.1L285.6 504.6L286.4 500.3L287.2 495.9L288.0 491.7L288.8 487.5L289.6 483.4L290.4 479.3L291.1 475.4L291.9 471.6L292.7 467.9L293.5 464.3L294.3 460.8L295.1 457.4L295.9 454.2L296.6 451.1L297.4 448.2L298.2 445.4L299.0 442.7L299.8 440.2L300.6 437.9L301.4 435.7L302.1 433.7L302.9 431.9L303.7 430.2L304.5 428.8L305.3 427.4L306.1 426.3L306.9 425.4L307.6 424.6L308.4 424.0L309.2 423.6L310.0 423.4L310.8 423.3L311.6 423.5L312.4 423.8L313.1 424.3L313.9 425.0L314.7 425.9L315.5 426.9L316.3 428.2L317.1 429.6L317.9 431.2L318.6 432.9L319.4 434.9L320.2 437.0L321.0 439.2L321.8 441.6L322.6 444.2L323.4 446.9L324.1 449.8L324.9 452.9L325.7 456.0L326.5 459.3L327.3 462.8L328.1 466.3L328.9 470.0L329.6 473.8L330.4 477.6L331.2 481.6L332.0 485.7L332.8 489.8L333.6 494.1L334.4 498.4L335.1 502.7L335.9 507.1L336.7 511.6L337.5 516.1L338.3 520.6L339.1 525.1L339.9 529.6L340.6 534.2L341.4 538.7L342.2 543.2L343.0 547.6L343.8 552.1L344.6 556.4L345.4 560.7L346.1 565.0L346.9 569.1L347.7 573.2L348.5 577.2L349.3 581.0L350.1 584.8L350.9 588.4L351.6 591.9L352.4 595.2L353.2 598.4L354.0 601.4L354.8 604.3L355.6 607.0L356.4 609.5L357.1 611.8L357.9 613.9L358.7 615.9L359.5 617.6L360.3 619.1L361.1 620.4L361.9 621.5L362.6 622.4L363.4 623.1L364.2 623.5L365.0 623.8L365.8 623.8L366.6 623.6L367.4 623.1L368.1 622.4L368.9 621.6L369.7 620.5L370.5 619.2L371.3 617.6L372.1 615.9L372.9 614.0L373.6 611.9L374.4 609.5L375.2 607.0L376.0 604.3L376.8 601.5L377.6 598.5L378.4 595.3L379.1 591.9L379.9 588.5L380.7 584.8L381.5 581.1L382.3 577.2L383.1 573.3L383.9 569.2L384.6 565.1L385.4 560.8L386.2 556.5L387.0 552.1L387.8 547.7L388.6 543.3L389.4 538.8L390.1 534.3L390.9 529.7L391.7 525.2L392.5 520.7L393.3 516.2L394.1 511.7L394.9 507.2L395.6 502.8L396.4 498.5L397.2 494.2L398.0 489.9L398.8 485.8L399.6 481.7L400.4 477.7L401.1 473.8L401.9 470.0L402.7 466.4L403.5 462.8L404.3 459.4L405.1 456.1L405.9 452.9L406.6 449.9L407.4 447.0L408.2 444.3L409.0 441.7L409.8 439.3L410.6 437.0L411.4 434.9L412.1 433.0L412.9 431.2L413.7 429.6L414.5 428.2L415.3 427.0L416.1 425.9L416.9 425.0L417.6 424.3L418.4 423.8L419.2 423.5L420.0 423.3L420.8 423.4L421.6 423.6L422.4 424.0L423.1 424.6L423.9 425.3L424.7 426.3L425.5 427.4L426.3 428.7L427.1 430.2L427.9 431.9L428.6 433.7L429.4 435.7L430.2 437.9L431.0 440.2L431.8 442.7L432.6 445.3L433.4 448.1L434.1 451.1L434.9 454.1L435.7 457.4L436.5 460.7L437.3 464.2L438.1 467.8L438.9 471.5L439.6 475.3L440.4 479.3L441.2 483.3L442.0 487.4L442.8 491.6L443.6 495.8L444.4 500.2L445.1 504.6L445.9 509.0L446.7 513.4L447.5 517.9L448.3 522.5L449.1 527.0L449.9 531.5L450.6 536.0L451.4 540.6L452.2 545.0L453.0 549.5L453.8 553.9L454.6 558.2L455.4 562.5L456.1 566.7L456.9 570.8L457.7 574.9L458.5 578.8L459.3 582.6L460.1 586.3L460.9 589.8L461.6 593.3L462.4 596.5L463.2 599.7L464.0 602.6L464.8 605.4L465.6 608.0L466.4 610.5L467.1 612.7L467.9 614.8L468.7 616.6L469.5 618.3L470.3 619.7L471.1 620.9L471.9 621.9L472.6 622.7L473.4 623.3L474.2 623.7L475.0 623.8L475.8 623.7L476.6 623.4L477.4 622.9L478.1 622.1L478.9 621.1L479.7 620.0L480.5 618.6L481.3 616.9L482.1 615.1L482.9 613.1L483.6 610.9L484.4 608.5L485.2 605.9L486.0 603.2L486.8 600.2L487.6 597.2L488.4 593.9L489.1 590.5L489.9 587.0L490.7 583.3L491.5 579.5L492.3 575.6L493.1 571.6L493.9 567.5L494.6 563.3L495.4 559.0L496.2 554.7L497.0 550.3L497.8 545.9L498.6 541.4L499.4 536.9L500.1 532.4L500.9 527.9L501.7 523.3L502.5 518.8L503.3 514.3L504.1 509.8L504.9 505.4L505.6 501.0L506.4 496.7L507.2 492.4L508.0 488.2L508.8 484.1L509.6 480.0L510.4 476.1L511.1 472.2L511.9 468.5L512.7 464.9L513.5 461.4L514.3 458.0L515.1 454.8L515.9 451.6L516.6 448.7L517.4 445.9L518.2 443.2L519.0 440.7L519.8 438.3L520.6 436.1L521.4 434.1L522.1 432.2L522.9 430.5L523.7 429.0L524.5 427.7L525.3 426.5L526.1 425.5L526.9 424.7L527.6 424.1L528.4 423.6L529.2 423.4L530.0 423.3L530.8 423.4L531.6 423.7L532.4 424.2L533.1 424.9L533.9 425.7L534.7 426.7L535.5 427.9L536.3 429.3L537.1 430.9L537.9 432.6L538.6 434.5L539.4 436.6L540.2 438.8L541.0 441.2L541.8 443.8L542.6 446.5L543.4 449.3L544.1 452.3L544.9 455.5L545.7 458.7L546.5 462.1L547.3 465.7L548.1 469.3L548.9 473.1L549.6 477.0L550.4 480.9L551.2 485.0L552.0 489.1L552.8 493.3L553.6 497.6L554.4 502.0L555.1 506.4L555.9 510.8L556.7 515.3L557.5 519.8L558.3 524.3L559.1 528.9L559.9 533.4L560.6 537.9L561.4 542.4L562.2 546.9L563.0 551.3L563.8 555.7L564.6 560.0L565.4 564.3L566.1 568.4L566.9 572.5L567.7 576.5L568.5 580.4L569.3 584.1L570.1 587.8L570.9 591.3L571.6 594.6L572.4 597.9L573.2 600.9L574.0 603.8L574.8 606.5L575.6 609.1L576.4 611.4L577.1 613.6L577.9 615.6L578.7 617.3L579.5 618.9L580.3 620.2L581.1 621.4L581.9 622.3L582.6 623.0L583.4 623.5L584.2 623.7L585.0 623.8L585.8 623.6L586.6 623.2L587.4 622.6L588.1 621.7L588.9 620.7L589.7 619.4L590.5 617.9L591.3 616.2L592.1 614.3L592.9 612.2L593.6 609.9L594.4 607.5L595.2 604.8L596.0 602.0L596.8 599.0L597.6 595.8L598.4 592.5L599.1 589.1L599.9 585.5L600.7 581.8L601.5 577.9L602.3 574.0L603.1 569.9L603.9 565.8L604.6 561.6L605.4 557.3L606.2 552.9L607.0 548.5L607.8 544.0L608.6 539.5L609.4 535.0L610.1 530.5L610.9 526.0L611.7 521.5L612.5 516.9L613.3 512.4L614.1 508.0L614.9 503.6L615.6 499.2L616.4 494.9L617.2 490.7L618.0 486.5L618.8 482.4L619.6 478.4L620.4 474.5L621.1 470.7L621.9 467.0L622.7 463.4L623.5 460.0L624.3 456.6L625.1 453.5L625.9 450.4L626.6 447.5L627.4 444.7L628.2 442.1L629.0 439.7L629.8 437.4L630.6 435.2L631.4 433.3L632.1 431.5L632.9 429.9L633.7 428.4L634.5 427.2L635.3 426.1L636.1 425.2L636.9 424.4L637.6 423.9L638.4 423.5L639.2 423.3L640.0 423.3L640.8 423.5L641.6 423.9L642.4 424.5L643.1 425.2L643.9 426.1L644.7 427.2L645.5 428.5L646.3 429.9L647.1 431.6L647.9 433.4L648.6 435.3L649.4 437.5L650.2 439.8L651.0 442.2L651.8 444.9L652.6 447.6L653.4 450.5L654.1 453.6L654.9 456.8L655.7 460.1L656.5 463.6L657.3 467.2L658.1 470.9L658.9 474.7L659.6 478.6L660.4 482.6L661.2 486.7L662.0 490.9L662.8 495.1L663.6 499.4L664.4 503.8L665.1 508.2L665.9 512.7L666.7 517.2L667.5 521.7L668.3 526.2L669.1 530.7L669.9 535.3L670.6 539.8L671.4 544.3L672.2 548.7L673.0 553.1L673.8 557.5L674.6 561.8L675.4 566.0L676.1 570.1L676.9 574.2L677.7 578.1L678.5 581.9L679.3 585.7L680.1 589.2L680.9 592.7L681.6 596.0L682.4 599.1L683.2 602.1L684.0 605.0L684.8 607.6L685.6 610.1L686.4 612.3L687.1 614.4L687.9 616.3L688.7 618.0L689.5 619.5L690.3 620.7L691.1 621.8L691.9 622.6L692.6 623.2L693.4 623.6L694.2 623.8L695.0 623.7" transform="translate(0 0.8)"/></g>
<g fill="#00f">
<circle cx="145.0" cy="743.9" r="5.8"/>
<circle cx="149.3" cy="735.9" r="5.8"/>
<circle cx="153.6" cy="713.9" r="5.8"/>
<circle cx="157.9" cy="728.5" r="5.8"/>
<circle cx="162.2" cy="722.9" r="5.8"/>
<circle cx="166.5" cy="725.9" r="5.8"/>
<circle cx="170.8" cy="729.3" r="5.8"/>
<circle cx="175.1" cy="728.9" r="5.8"/>
<circle cx="179.4" cy="721.9" r="5.8"/>
<circle cx="183.7" cy="720.5" r="5.8"/>
<circle cx="188.0" cy="722.5" r="5.8"/>
<circle cx="192.3" cy="694.4" r="5.8"/>
<circle cx="196.6" cy="720.3" r="5.8"/>
<circle cx="200.9" cy="707.3" r="5.8"/>
<circle cx="205.2" cy="702.3" r="5.8"/>
<circle cx="209.5" cy="718.5" r="5.8"/>
<circle cx="213.8" cy="719.9" r="5.8"/>
<circle cx="218.0" cy="724.5" r="5.8"/>
<circle cx="222.3" cy="721.9" r="5.8"/>
<circle cx="226.6" cy="720.9" r="5.8"/>
<circle cx="230.9" cy="722.9" r="5.8"/>
<circle cx="235.2" cy="730.9" r="5.8"/>
<circle cx="239.5" cy="731.9" r="5.8"/>
<circle cx="243.8" cy="732.5" r="5.8"/>
<circle cx="248.1" cy="732.5" r="5.8"/>
<circle cx="252.4" cy="732.9" r="5.8"/>
<circle cx="256.7" cy="744.3" r="5.8"/>
<circle cx="261.0" cy="731.5" r="5.8"/>
<circle cx="265.3" cy="730.5" r="5.8"/>
<circle cx="269.6" cy="736.9" r="5.8"/>
<circle cx="273.9" cy="739.9" r="5.8"/>
<circle cx="278.2" cy="734.9" r="5.8"/>
<circle cx="282.5" cy="724.9" r="5.8"/>
<circle cx="286.8" cy="739.3" r="5.8"/>
<circle cx="291.1" cy="727.5" r="5.8"/>
<circle cx="295.4" cy="726.5" r="5.8"/>
<circle cx="299.7" cy="711.9" r="5.8"/>
<circle cx="304.0" cy="714.9" r="5.8"/>
<circle cx="321.2" cy="698.0" r="5.8"/>
<circle cx="325.5" cy="717.9" r="5.8"/>
<circle cx="329.8" cy="720.9" r="5.8"/>
<circle cx="334.1" cy="722.9" r="5.8"/>
<circle cx="342.7" cy="736.5" r="5.8"/>
<circle cx="347.0" cy="724.5" r="5.8"/>
<circle cx="351.3" cy="738.5" r="5.8"/>
<circle cx="355.6" cy="752.9" r="5.8"/>
<circle cx="359.9" cy="739.9" r="5.8"/>
<circle cx="364.1" cy="744.9" r="5.8"/>
<circle cx="368.4" cy="744.5" r="5.8"/>
<circle cx="372.7" cy="746.5" r="5.8"/>
<circle cx="377.0" cy="738.3" r="5.8"/>
<circle cx="381.3" cy="762.9" r="5.8"/>
<circle cx="385.6" cy="757.3" r="5.8"/>
<circle cx="389.9" cy="746.3" r="5.8"/>
<circle cx="394.2" cy="736.9" r="5.8"/>
<circle cx="398.5" cy="742.5" r="5.8"/>
<circle cx="402.8" cy="739.3" r="5.8"/>
<circle cx="407.1" cy="733.9" r="5.8"/>
<circle cx="411.4" cy="734.9" r="5.8"/>
<circle cx="415.7" cy="741.5" r="5.8"/>
<circle cx="420.0" cy="730.3" r="5.8"/>
<circle cx="424.3" cy="717.3" r="5.8"/>
<circle cx="428.6" cy="716.0" r="5.8"/>
<circle cx="432.9" cy="712.9" r="5.8"/>
<circle cx="437.2" cy="723.9" r="5.8"/>
<circle cx="441.5" cy="711.9" r="5.8"/>
<circle cx="445.8" cy="718.9" r="5.8"/>
<circle cx="450.1" cy="723.9" r="5.8"/>
<circle cx="454.4" cy="728.5" r="5.8"/>
<circle cx="458.7" cy="729.9" r="5.8"/>
<circle cx="463.0" cy="732.9" r="5.8"/>
<circle cx="467.3" cy="739.9" r="5.8"/>
<circle cx="471.6" cy="745.9" r="5.8"/>
<circle cx="475.9" cy="738.5" r="5.8"/>
<circle cx="480.2" cy="741.9" r="5.8"/>
<circle cx="484.5" cy="759.5" r="5.8"/>
<circle cx="488.8" cy="752.9" r="5.8"/>
<circle cx="493.1" cy="749.3" r="5.8"/>
<circle cx="497.4" cy="753.9" r="5.8"/>
<circle cx="501.7" cy="755.9" r="5.8"/>
<circle cx="505.9" cy="751.9" r="5.8"/>
<circle cx="510.2" cy="757.3" r="5.8"/>
<circle cx="514.5" cy="745.9" r="5.8"/>
<circle cx="518.8" cy="739.9" r="5.8"/>
<circle cx="523.1" cy="736.3" r="5.8"/>
<circle cx="527.4" cy="729.9" r="5.8"/>
<circle cx="531.7" cy="715.9" r="5.8"/>
<circle cx="536.0" cy="701.3" r="5.8"/>
<circle cx="540.3" cy="706.9" r="5.8"/>
<circle cx="544.6" cy="702.3" r="5.8"/>
<circle cx="548.9" cy="708.9" r="5.8"/>
<circle cx="553.2" cy="712.5" r="5.8"/>
<circle cx="557.5" cy="710.2" r="5.8"/>
<circle cx="561.8" cy="709.9" r="5.8"/>
<circle cx="566.1" cy="716.5" r="5.8"/>
<circle cx="570.4" cy="722.9" r="5.8"/>
<circle cx="574.7" cy="724.9" r="5.8"/>
<circle cx="579.0" cy="731.9" r="5.8"/>
<circle cx="583.3" cy="740.5" r="5.8"/>
<circle cx="587.6" cy="747.9" r="5.8"/>
<circle cx="591.9" cy="752.5" r="5.8"/>
<circle cx="596.2" cy="771.9" r="5.8"/>
<circle cx="600.5" cy="781.4" r="5.8"/>
<circle cx="604.8" cy="764.3" r="5.8"/>
<circle cx="609.1" cy="773.9" r="5.8"/>
<circle cx="613.4" cy="779.2" r="5.8"/>
<circle cx="617.7" cy="776.8" r="5.8"/>
<circle cx="622.0" cy="772.8" r="5.8"/>
<circle cx="626.3" cy="770.3" r="5.8"/>
<circle cx="630.6" cy="745.5" r="5.8"/>
<circle cx="634.9" cy="727.9" r="5.8"/>
<circle cx="639.2" cy="736.9" r="5.8"/>
<circle cx="643.5" cy="714.9" r="5.8"/>
<circle cx="647.7" cy="711.3" r="5.8"/>
<circle cx="652.0" cy="697.0" r="5.8"/>
<circle cx="656.3" cy="681.4" r="5.8"/>
<circle cx="660.6" cy="682.4" r="5.8"/>
<circle cx="664.9" cy="747.3" r="5.8"/>
<circle cx="669.2" cy="708.9" r="5.8"/>
<circle cx="673.5" cy="702.3" r="5.8"/>
<circle cx="677.8" cy="696.0" r="5.8"/>
<circle cx="682.1" cy="712.5" r="5.8"/>
<circle cx="686.4" cy="728.9" r="5.8"/>
<circle cx="690.7" cy="729.3" r="5.8"/>
<circle cx="695.0" cy="738.5" r="5.8"/>
</g>
<g stroke="#000" stroke-width="2.1" fill="none" stroke-linecap="butt">
<path d="M90.4 9.6V805.7M750.4 9.6V801.8"/>
<path d="M89.4 10.7H751.4"/>
<path d="M89.4 336.1H751.4"/>
<path d="M89.4 661.9H751.4"/>
<path d="M89.4 800.7H751.4"/>
<path d="M145.0 336.1v9.4M255.0 336.1v9.4M365.0 336.1v9.4M475.0 336.1v9.4M585.0 336.1v9.4M695.0 336.1v9.4M90.4 336.1v5.2M200.0 336.1v5.2M310.0 336.1v5.2M420.0 336.1v5.2M530.0 336.1v5.2M640.0 336.1v5.2M750.4 336.1v5.2M145.0 661.9v9.4M255.0 661.9v9.4M365.0 661.9v9.4M475.0 661.9v9.4M585.0 661.9v9.4M695.0 661.9v9.4M90.4 661.9v5.2M200.0 661.9v5.2M310.0 661.9v5.2M420.0 661.9v5.2M530.0 661.9v5.2M640.0 661.9v5.2M750.4 661.9v5.2M145.0 800.7v9.4M255.0 800.7v9.4M365.0 800.7v9.4M475.0 800.7v9.4M585.0 800.7v9.4M695.0 800.7v9.4M90.4 800.7v5.2M200.0 800.7v5.2M310.0 800.7v5.2M420.0 800.7v5.2M530.0 800.7v5.2M640.0 800.7v5.2M750.4 800.7v5.2M90.4 10.7h-9.4M90.4 83.0h-9.4M90.4 155.3h-9.4M90.4 227.6h-9.4M90.4 299.9h-9.4M90.4 46.9h-5.2M90.4 119.2h-5.2M90.4 191.5h-5.2M90.4 263.8h-5.2M90.4 336.1h-5.2M90.4 425.4h-9.4M90.4 523.7h-9.4M90.4 622.0h-9.4M90.4 376.3h-5.2M90.4 474.5h-5.2M90.4 572.8h-5.2M90.4 674.8h-9.4M90.4 725.2h-9.4M90.4 775.6h-9.4M90.4 700.0h-5.2M90.4 750.4h-5.2M90.4 800.8h-5.2"/>
</g>
<g font-family="'Liberation Serif', 'Times New Roman', serif" font-size="28" fill="#000" stroke="#000" stroke-width="0.35" style="font-kerning:none">
<text x="75.8" y="19.5" text-anchor="end">60</text>
<text x="75.8" y="91.8" text-anchor="end">50</text>
<text x="75.8" y="164.1" text-anchor="end">40</text>
<text x="75.8" y="236.4" text-anchor="end">30</text>
<text x="75.8" y="308.7" text-anchor="end">20</text>
<text x="75.8" y="434.2" text-anchor="end">1.5</text>
<text x="75.8" y="532.5" text-anchor="end">1.0</text>
<text x="75.8" y="630.8" text-anchor="end">0.5</text>
<text x="75.8" y="683.6" text-anchor="end">0.1</text>
<text x="75.8" y="734.0" text-anchor="end">0.0</text>
<text x="75.8" y="784.4" text-anchor="end">-0.1</text>
<text x="145.0" y="836.4" text-anchor="middle">0</text>
<text x="255.0" y="836.4" text-anchor="middle">1</text>
<text x="365.0" y="836.4" text-anchor="middle">2</text>
<text x="475.0" y="836.4" text-anchor="middle">3</text>
<text x="585.0" y="836.4" text-anchor="middle">4</text>
<text x="695.0" y="836.4" text-anchor="middle">5</text>
<text x="421.5" y="883.5" text-anchor="middle">Time (s)</text>
<text transform="translate(20.2 139.0) rotate(-90)" text-anchor="middle">AT Splitting (MHz)</text>
<text transform="translate(20.2 478.4) rotate(-90)" text-anchor="middle">Transmitted and Received Signals</text>
<text transform="translate(20.2 753.4) rotate(-90)" text-anchor="middle">Residuals</text>
<text x="421.6" y="366.5">Transmitted AM signal, <tspan font-style="italic" dx="-1.3">m</tspan><tspan font-size="16.6" dx="0.5" dy="10">AM</tspan></text>
<text x="406.9" y="409.7">Received AM signal, <tspan font-style="italic">m</tspan><tspan font-size="16.6" dx="0.5" dy="10">Rec</tspan></text>
</g>
<path d="M343.4 357.5H408.9" stroke="#000" stroke-width="2.6"/>
<path d="M376.1,394.3L377.6,398.3L381.9,398.5L378.6,401.2L379.7,405.3L376.1,403.0L372.5,405.3L373.6,401.2L370.3,398.5L374.6,398.3Z" fill="#f00"/>
<g font-family="'Liberation Sans', Arial, sans-serif" font-size="33.5" fill="#000" stroke="#000" stroke-width="0.3">
<text x="105.8" y="53.0">(a)</text>
<text x="105.8" y="394.4">(b)</text>
</g>
</svg>
</body></html>
